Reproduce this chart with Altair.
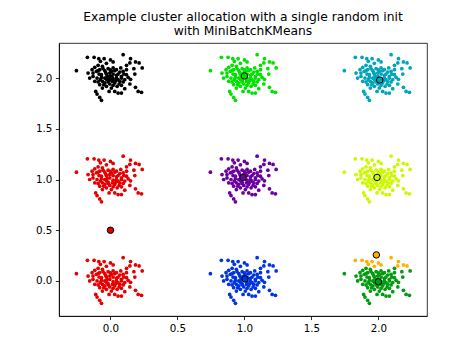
import altair as alt
import pandas as pd

# ---- data ----
# shared noise offsets (same pattern repeated around every grid center)
noise_dx = [-0.172, -0.122, -0.087, -0.047, 0.000, 0.095, 0.150, -0.075, 0.020, -0.030,
            0.187, 0.214, 0.145, 0.120, 0.237, 0.175, -0.254, -0.167, -0.137, -0.117,
            -0.092, -0.060, -0.155, -0.130, -0.105, -0.080, -0.042, -0.017, 0.020, 0.045,
            0.077, 0.095, 0.057, 0.020, -0.005, -0.030, -0.067, -0.100, -0.075, -0.042,
            -0.017, 0.020, 0.045, 0.082, 0.120, 0.150, 0.107, 0.070, 0.032, -0.005,
            -0.042, -0.080, -0.117, 0.182, -0.060, -0.030, 0.007, 0.050, 0.082, 0.107,
            0.145, 0.032, 0.057, -0.010, -0.110, -0.100, -0.080, -0.067, 0.187, 0.207,
            0.232, 0.082, -0.055, 0.007, 0.032, -0.085, -0.025, -0.060, 0.015, 0.057,
            0.095, 0.132, -0.035, -0.005, -0.130, 0.045, 0.070, -0.092, -0.017, 0.020,
            -0.050, 0.100, -0.067, 0.082, 0.000, -0.030, 0.040, -0.092, 0.120, 0.065]
noise_dy = [0.204, 0.204, 0.191, 0.191, 0.178, 0.230, 0.191, 0.164, 0.158, 0.145,
            0.158, 0.148, 0.148, 0.125, 0.099, 0.092, 0.072, 0.049, 0.082, 0.105,
            0.125, 0.115, 0.000, 0.016, 0.066, 0.082, 0.072, 0.092, 0.099, 0.082,
            0.099, 0.066, 0.039, 0.039, 0.016, 0.039, 0.033, 0.000, -0.016, 0.000,
            -0.026, -0.007, 0.000, 0.016, 0.033, -0.013, -0.016, -0.033, -0.049, -0.059,
            -0.049, -0.066, -0.033, 0.039, -0.099, -0.082, -0.099, -0.082, -0.072, -0.105,
            -0.059, -0.132, -0.148, -0.132, -0.132, -0.158, -0.191, -0.220, -0.092, -0.132,
            -0.141, -0.148, 0.092, 0.066, 0.072, 0.039, 0.013, -0.033, -0.033, -0.016,
            -0.039, 0.007, 0.053, 0.049, 0.049, 0.026, 0.059, -0.039, -0.039, -0.072,
            -0.066, 0.039, 0.007, 0.000, 0.079, -0.013, -0.026, 0.072, 0.082, -0.059]

center_x = [0, 0, 0, 1, 1, 1, 2, 2, 2]
center_y = [0, 1, 2, 0, 1, 2, 0, 1, 2]
center_label = [8, 8, 0, 2, 1, 5, 4, 6, 3]
# points of the (2, 0) blob that went to cluster 7 (orange)
split_center = 6
split_label = 7
split_idx = [0, 1, 2, 3, 4, 5, 6, 7, 8, 9, 10, 11, 12]

# fitted cluster centres
centroid_x = [0.0, 0.99, 1.005, 2.01, 2.0, 1.0, 1.99, 1.985, 0.0]
centroid_y = [2.0, 1.02, 0.02, 1.98, -0.007, 2.02, 1.02, 0.257, 0.5]
centroid_label = [0, 1, 2, 3, 4, 5, 6, 7, 8]

labels = [0, 1, 2, 3, 4, 5, 6, 7, 8]
colors = ["#000000", "#6a009d", "#0035dd", "#00a4bb", "#009b0f",
          "#00e100", "#ccf900", "#ffb000", "#e40000"]

rows = []
for c, (cx, cy, lab) in enumerate(zip(center_x, center_y, center_label)):
    for i, (dx, dy) in enumerate(zip(noise_dx, noise_dy)):
        k = split_label if (c == split_center and i in split_idx) else lab
        rows.append({"x": cx + dx, "y": cy + dy, "k": k})
pts = pd.DataFrame(rows).sort_values("k", kind="stable")
cents = pd.DataFrame({"x": centroid_x, "y": centroid_y, "k": centroid_label})

xs = alt.Scale(domain=[-0.384, 2.363], nice=False, zero=False)
ys = alt.Scale(domain=[-0.345, 2.345], nice=False, zero=False)
cs = alt.Scale(domain=labels, range=colors)
ticks = [0, 0.5, 1.0, 1.5, 2.0]

xenc = alt.X("x:Q", scale=xs, axis=alt.Axis(values=ticks, format=".1f", title=None))
yenc = alt.Y("y:Q", scale=ys, axis=alt.Axis(values=ticks, format=".1f", title=None))

points = alt.Chart(pts).mark_circle(size=14, opacity=1).encode(
    x=xenc, y=yenc, color=alt.Color("k:N", scale=cs, legend=None)
)
centers = alt.Chart(cents).mark_circle(size=42, opacity=1, stroke="black", strokeWidth=1).encode(
    x=xenc, y=yenc, color=alt.Color("k:N", scale=cs, legend=None)
)

chart = (points + centers).properties(
    width=368, height=273,
    autosize=alt.AutoSizeParams(type="none"),
    padding={"left": 59, "top": 43, "right": 47, "bottom": 39},
    title=alt.TitleParams(
        text=["Example cluster allocation with a single random init", "with MiniBatchKMeans"],
        font="DejaVu Sans", fontSize=12.3, fontWeight="normal", color="black",
        anchor="middle", offset=6, lineHeight=14,
    ),
).configure_view(stroke="black", strokeWidth=0.8).configure_axis(
    grid=False, domainColor="black", domainWidth=0.8, tickColor="black",
    tickSize=3.6, tickWidth=0.8, labelFont="DejaVu Sans", labelFontSize=10.3,
    labelColor="black", labelPadding=3.5,
)

chart.save("out.html", embed_options={"renderer": "svg", "actions": False})
